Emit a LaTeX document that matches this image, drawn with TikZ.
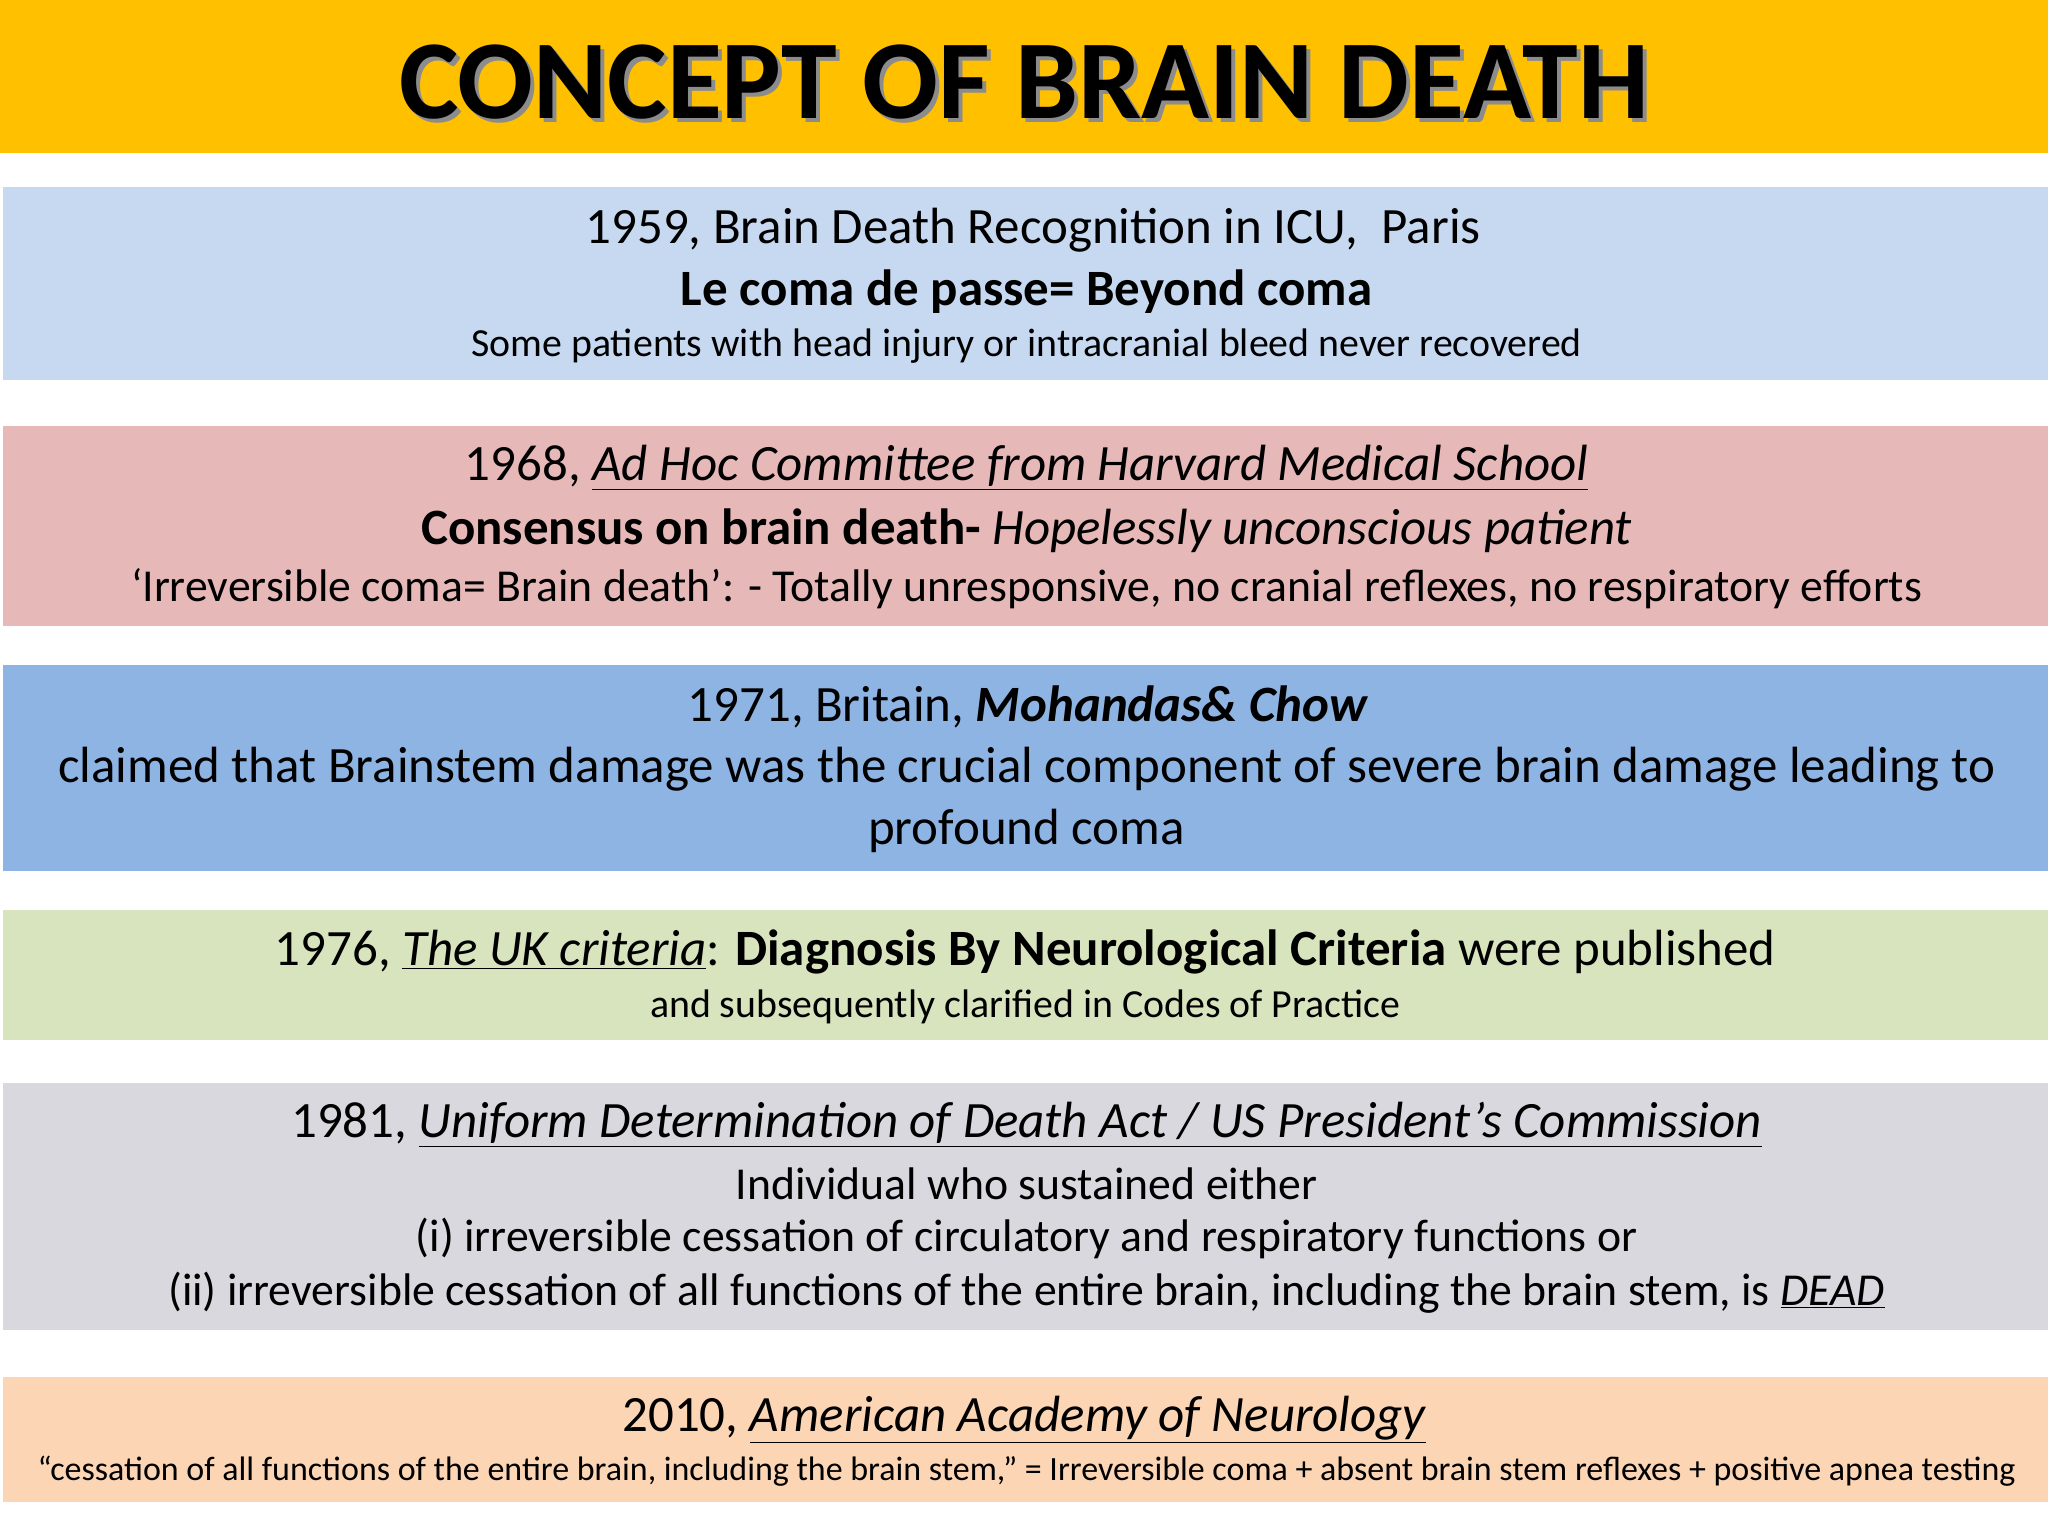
\documentclass[tikz,border=0pt]{standalone}
\usepackage{fontspec}
\setmainfont{Carlito}
\begin{document}
\begin{tikzpicture}[x=1pt,y=-1pt,
  band/.style={draw=none},
  t/.style={anchor=center,inner sep=0pt,text=black},
  big/.style={t,font=\fontsize{39}{44}\selectfont},
  mid/.style={t,font=\fontsize{35}{40}\selectfont},
  sml/.style={t,font=\fontsize{30.5}{35}\selectfont}]
\useasboundingbox (0,0) rectangle (1568,1176);
\fill[white] (0,0) rectangle (1568,1176);
\fill[band,fill={rgb,255:red,255;green,192;blue,0}] (0,0) rectangle (1568,117);
\fill[band,fill={rgb,255:red,198;green,217;blue,241}] (2,143) rectangle (1568,291);
\fill[band,fill={rgb,255:red,230;green,185;blue,184}] (2,326) rectangle (1568,479);
\fill[band,fill={rgb,255:red,142;green,180;blue,227}] (2,509) rectangle (1568,667);
\fill[band,fill={rgb,255:red,215;green,228;blue,189}] (2,697) rectangle (1568,796);
\fill[band,fill={rgb,255:red,217;green,216;blue,222}] (2,829) rectangle (1568,1018);
\fill[band,fill={rgb,255:red,252;green,213;blue,181}] (2,1054) rectangle (1568,1150);
\node[t,text=black!45,font=\fontsize{86}{96}\selectfont\bfseries] at (787,66) {CONCEPT OF BRAIN DEATH};
\node[t,font=\fontsize{86}{96}\selectfont\bfseries] (title) at (784,63) {CONCEPT OF BRAIN DEATH};
\node[big] (a1) at (791,176) {1959, Brain Death Recognition in ICU,\ \ Paris};
\node[big] (a2) at (786,223) {\bfseries Le coma de passe= Beyond coma};
\node[sml] (a3) at (786,265) {Some patients with head injury or intracranial bleed never recovered};
\node[big] (b1) at (786,358) {1968, \textit{\underline{Ad Hoc Committee from Harvard Medical School}}};
\node[big] (b2) at (786,406) {\textbf{Consensus on brain death-} \textit{Hopelessly unconscious patient}};
\node[mid] (b3) at (786,451) {`Irreversible coma= Brain death': - Totally unresponsive, no cranial reflexes, no respiratory efforts};
\node[big] (c1) at (787,541) {1971, Britain, \textbf{\textit{Mohandas\& Chow}}};
\node[big] (c2) at (786,589) {claimed that Brainstem damage was the crucial component of severe brain damage leading to};
\node[big] (c3) at (786,636) {profound coma};
\node[big] (d1) at (785,729) {1976, \textit{\underline{The UK criteria}}: \textbf{Diagnosis By Neurological Criteria} were published};
\node[sml] (d2) at (785,771) {and subsequently clarified in Codes of Practice};
\node[big] (e1) at (786,861) {1981, \textit{\underline{Uniform Determination of Death Act / US President's Commission}}};
\node[mid] (e2) at (786,906) {Individual who sustained either};
\node[mid] (e3) at (786,948) {(i) irreversible cessation of circulatory and respiratory functions or};
\node[mid] (e4) at (786,990) {(ii) irreversible cessation of all functions of the entire brain, including the brain stem, is \textit{\underline{DEAD}}};
\node[big] (f1) at (784,1087) {2010, \textit{\underline{American Academy of Neurology}}};
\node[t,font=\fontsize{26}{30}\selectfont] (f2) at (786,1126) {``cessation of all functions of the entire brain, including the brain stem,'' = Irreversible coma + absent brain stem reflexes + positive apnea testing};
\end{tikzpicture}
\end{document}
